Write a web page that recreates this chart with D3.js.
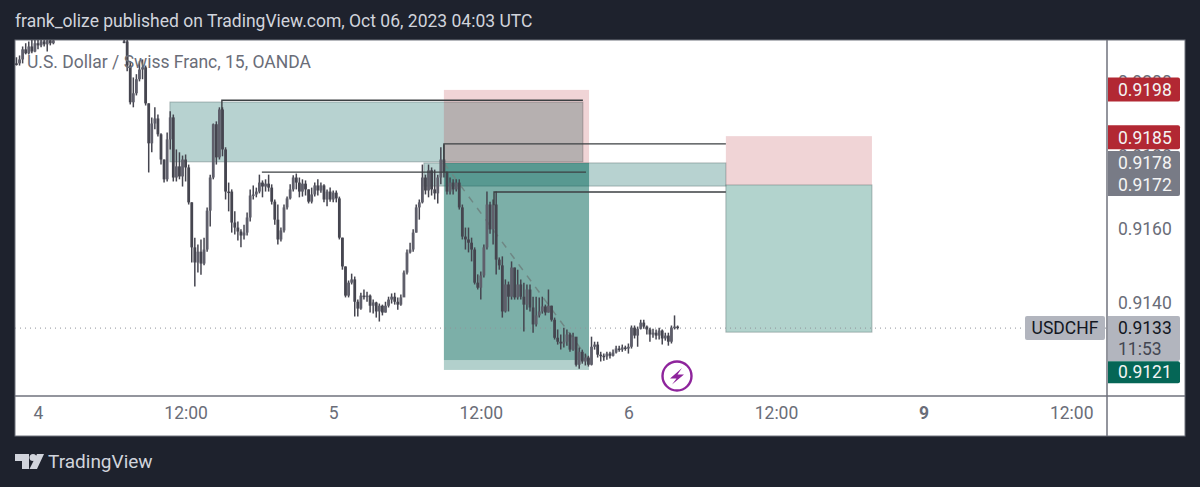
<!DOCTYPE html>
<html>
<head>
<meta charset="utf-8">
<style>
  html, body { margin: 0; padding: 0; background: #1e222d; overflow: hidden; }
  svg { display: block; font-family: Roboto, sans-serif; }
</style>
</head>
<body>
<div id="chart"></div>
<script src="https://cdn.jsdelivr.net/npm/d3@7"></script>
<script>
// Bars are numbered in 15 minute steps from Oct 4 00:00, the weekend is collapsed
var barSlots = d3.range(-7, 6).concat(d3.range(28, 209));

// Values, in points (1/100000 of a franc)
var closes = [
  92060,92071,92099,92088,92107,92093,92116,92110,92121,92113,92124,92116,92124,
  92121,92054,91952,91977,92016,92043,92049,91949,91838,91893,91907,91863,91793,91738,91849,91910,91743,91774,91746,91793,91771,91674,
  91549,91507,91537,91504,91543,91651,91743,91891,91799,91932,91821,91704,91704,91618,91604,91593,91582,91590,91632,91693,91696,91704,
  91729,91718,91726,91715,91676,91626,91571,91596,91660,91685,91710,91743,91729,91704,91726,91710,91676,91696,91721,91707,91721,91682,
  91704,91682,91701,91685,91576,91496,91415,91451,91460,91398,91379,91415,91412,91415,91387,91396,91371,91387,91368,91387,91404,91412,
  91398,91390,91410,91479,91535,91543,91590,91660,91674,91743,91707,91763,91710,91699,91743,91793,91757,91704,91729,91710,91729,91660,
  91579,91571,91562,91543,91451,91437,91471,91549,91668,91599,91668,91515,91499,91371,91446,91412,91493,91410,91446,91412,91390,91432,
  91382,91335,91360,91371,91385,91368,91387,91348,91298,91287,91282,91287,91307,91265,91301,91223,91259,91232,91243,91223,91273,91279,
  91251,91248,91246,91254,91248,91257,91268,91265,91271,91268,91273,91326,91304,91323,91340,91329,91321,91307,91312,91304,91318,91296,
  91304,91287,91326,91329,91326
];
var highs = [
  92077,92082,92107,92116,92121,92127,92127,92132,92132,92138,92138,92138,92138,
  92143,92132,92066,92021,92030,92066,92071,92054,91949,91910,91938,91918,91866,91793,91868,91927,91918,91821,91813,91804,91807,91779,
  91674,91576,91557,91571,91576,91660,91751,91893,91899,91938,91938,91827,91729,91710,91649,91621,91599,91612,91646,91710,91721,91715,
  91751,91735,91738,91751,91724,91682,91668,91604,91668,91690,91724,91749,91754,91743,91738,91735,91710,91715,91729,91738,91729,91724,
  91710,91715,91707,91707,91690,91576,91496,91457,91476,91468,91404,91423,91432,91426,91418,91404,91398,91393,91390,91398,91412,91421,
  91423,91410,91418,91485,91543,91562,91599,91668,91682,91779,91751,91779,91771,91765,91751,91827,91835,91760,91743,91738,91738,91738,
  91668,91604,91604,91576,91549,91474,91482,91557,91704,91676,91682,91704,91521,91524,91460,91454,91510,91493,91487,91460,91451,91446,
  91446,91412,91412,91410,91412,91390,91432,91387,91354,91321,91307,91326,91321,91312,91312,91293,91271,91265,91254,91248,91301,91287,
  91287,91259,91254,91259,91259,91265,91276,91276,91279,91276,91282,91332,91332,91329,91348,91348,91332,91326,91323,91321,91326,91321,
  91312,91312,91332,91360,91332
];
var lows = [
  92054,92054,92060,92085,92085,92088,92091,92099,92105,92107,92093,92110,92113,
  92116,92038,91946,91938,91971,92010,92016,91943,91757,91813,91877,91857,91779,91729,91732,91821,91732,91732,91738,91718,91732,91668,
  91507,91440,91479,91473,91499,91537,91607,91738,91779,91793,91802,91682,91649,91590,91585,91568,91549,91571,91582,91621,91682,91688,
  91699,91688,91704,91704,91668,91612,91557,91565,91590,91654,91682,91704,91710,91688,91690,91693,91671,91671,91690,91693,91701,91674,
  91663,91676,91674,91674,91571,91487,91410,91410,91446,91357,91357,91376,91404,91398,91368,91365,91354,91343,91360,91368,91382,91393,
  91390,91376,91387,91412,91474,91532,91537,91590,91626,91671,91696,91688,91693,91682,91671,91724,91743,91696,91696,91696,91704,91654,
  91571,91543,91535,91510,91446,91432,91404,91465,91543,91587,91557,91474,91487,91354,91368,91371,91404,91404,91404,91404,91315,91376,
  91371,91312,91329,91354,91365,91360,91368,91343,91293,91279,91265,91271,91276,91259,91262,91218,91212,91226,91221,91218,91221,91265,
  91243,91232,91234,91237,91240,91246,91254,91259,91259,91262,91254,91268,91296,91273,91321,91323,91307,91287,91298,91293,91293,91279,
  91290,91276,91282,91321,91321
];

// Price scale labels
var axisPrices = [0.92, 0.918, 0.916, 0.914];
var redLabels = [0.9198, 0.9185];
var greyLabels = [0.9178, 0.9172];
var lastPrice = 0.9133;
var lowLabel = 0.9121;

// Time scale labels
var timeSlots = [0, 48, 96, 144, 192, 240, 288, 336];
var timeLabels = ["4", "12:00", "5", "12:00", "6", "12:00", "9", "12:00"];

// Boxes drawn on the chart: from bar, to bar, top price, bottom price
var tealBoxes = [
  [42.9, 177.2, 0.91946, 0.91783],
  [125.5, 223.7, 0.9178, 0.91717]
];
var greenBoxes = [
  [132, 179.2, 0.9178, 0.91216],
  [132, 179.2, 0.9178, 0.91243]
];
var redBoxes = [
  [132, 179.2, 0.91979, 0.9178],
  [223.7, 271.2, 0.91853, 0.9172]
];
var targetBox = [223.7, 271.2, 0.9172, 0.91319];

// Level lines: from bar, to bar, price, and the price its left tick runs down to
var levels = [
  [59.8, 177.2, 0.91951, 0.91924],
  [132, 223.7, 0.91832, 0.91788],
  [72.8, 178.2, 0.91755, 0.91755],
  [148.3, 223.7, 0.91701, 0.91665]
];
var trendLine = [[132, 0.9178], [179.5, 0.9124]];

var width = 1200;
var height = 487;
var left = 15, right = 1185, axisX = 1107, top_ = 40, axisY = 396, bottom = 436;
var fontSize = 17.5;

var x = d3.scaleLinear().domain([-7.48, 347.64]).range([left, axisX]);
var y = d3.scaleLinear().domain([0.91145, 0.92115]).range([axisY, top_]);

// the points above were read with a slightly coarser price step
function toPrice(pts) {
  return 0.916 + (pts - 91600) * 0.981e-5;
}

var candles = barSlots.map(function(slot, i) {
  var contiguous = i > 0 && barSlots[i - 1] === slot - 1;
  return {
    slot: slot,
    open: toPrice(contiguous ? closes[i - 1] : closes[i]),
    close: toPrice(closes[i]),
    high: toPrice(highs[i]),
    low: toPrice(lows[i])
  };
});

var svg = d3.select("#chart").append("svg")
  .attr("width", width)
  .attr("height", height);

svg.append("rect")
  .attr("x", left).attr("y", top_)
  .attr("width", right - left).attr("height", bottom - top_)
  .attr("fill", "#fff")
  .attr("stroke", "#6f727c");

svg.append("defs").append("clipPath").attr("id", "plot")
  .append("rect")
  .attr("x", left).attr("y", top_)
  .attr("width", axisX - left).attr("height", axisY - top_);

var plot = svg.append("g").attr("clip-path", "url(#plot)");

function drawBoxes(boxes, fill, stroke) {
  plot.append("g").selectAll("rect")
    .data(boxes)
    .enter().append("rect")
    .attr("x", function(d) { return x(d[0]); })
    .attr("width", function(d) { return x(d[1]) - x(d[0]); })
    .attr("y", function(d) { return y(d[2]); })
    .attr("height", function(d) { return y(d[3]) - y(d[2]); })
    .attr("fill", fill)
    .attr("stroke", stroke)
    .attr("stroke-width", 1);
}

drawBoxes(tealBoxes, "rgba(0,96,88,0.282)", "rgba(90,110,110,0.45)");
drawBoxes(greenBoxes, "rgba(0,100,85,0.3)", "none");
drawBoxes(redBoxes, "rgba(178,40,51,0.2)", "none");
drawBoxes([targetBox], "rgba(0,110,90,0.3)", "rgba(90,110,110,0.45)");

plot.append("line")
  .attr("x1", x(trendLine[0][0])).attr("y1", y(trendLine[0][1]))
  .attr("x2", x(trendLine[1][0])).attr("y2", y(trendLine[1][1]))
  .attr("stroke", "#6f8784")
  .attr("stroke-width", 1.5)
  .attr("stroke-dasharray", "7 7");

// last price line
plot.append("line")
  .attr("x1", left).attr("x2", axisX)
  .attr("y1", y(lastPrice)).attr("y2", y(lastPrice))
  .attr("stroke", "#8f929b")
  .attr("stroke-dasharray", "1 4");

// Candles
var bars = plot.append("g").selectAll("g")
  .data(candles)
  .enter().append("g");

bars.append("line")
  .attr("x1", function(d) { return x(d.slot); })
  .attr("x2", function(d) { return x(d.slot); })
  .attr("y1", function(d) { return y(d.high); })
  .attr("y2", function(d) { return y(d.low); })
  .attr("stroke", "#45454f")
  .attr("stroke-width", 1.5);

bars.append("rect")
  .attr("x", function(d) { return x(d.slot) - 1.4; })
  .attr("width", 2.8)
  .attr("y", function(d) { return y(Math.max(d.open, d.close)); })
  .attr("height", function(d) { return Math.max(1.5, Math.abs(y(d.open) - y(d.close))); })
  .attr("fill", function(d) { return d.close > d.open ? "#5f5f6b" : "#45454f"; });

// Level lines with the little tick at their left end
plot.append("g").selectAll("path")
  .data(levels)
  .enter().append("path")
  .attr("d", function(d) {
    return "M" + x(d[0]) + "," + y(d[3]) + "V" + y(d[2]) + "H" + x(d[1]);
  })
  .attr("fill", "none")
  .attr("stroke", "#3c4043")
  .attr("stroke-width", 1.4);

// Axis frame
svg.append("line")
  .attr("x1", axisX).attr("x2", axisX).attr("y1", top_).attr("y2", bottom)
  .attr("stroke", "#6f727c").attr("stroke-width", 1.5);
svg.append("line")
  .attr("x1", left).attr("x2", right).attr("y1", axisY).attr("y2", axisY)
  .attr("stroke", "#6f727c").attr("stroke-width", 1.5);

// Time axis
var timeAxis = svg.append("g")
  .attr("transform", "translate(0," + axisY + ")")
  .call(d3.axisBottom(x)
    .tickValues(timeSlots)
    .tickSize(0)
    .tickPadding(11)
    .tickFormat(function(d, i) { return timeLabels[i]; }));
timeAxis.select(".domain").remove();
timeAxis.selectAll("text")
  .attr("font-family", "Roboto, sans-serif")
  .attr("font-size", fontSize)
  .attr("fill", "#6a6d78")
  .attr("font-weight", function(d, i) { return timeLabels[i] === "9" ? 700 : 400; });

// Price axis
var priceAxis = svg.append("g")
  .attr("transform", "translate(" + axisX + ",0)")
  .call(d3.axisRight(y)
    .tickValues(axisPrices)
    .tickSize(0)
    .tickPadding(11)
    .tickFormat(d3.format(".4f")));
priceAxis.select(".domain").remove();
priceAxis.selectAll("text")
  .attr("font-family", "Roboto, sans-serif")
  .attr("font-size", fontSize)
  .attr("fill", "#6a6d78");

var labelX = axisX + 1, labelW = 72, textX = 1118;

function priceTag(top, h, fill) {
  svg.append("path")
    .attr("d", "M" + labelX + "," + top + "h" + (labelW - 2) + "a2,2 0 0 1 2,2v" + (h - 4) + "a2,2 0 0 1 -2,2h" + (2 - labelW) + "z")
    .attr("fill", fill);
}

function priceText(text, yPos, fill) {
  svg.append("text")
    .attr("x", textX).attr("y", yPos)
    .attr("dy", "0.36em")
    .attr("font-size", fontSize)
    .attr("fill", fill)
    .text(text);
}

var fmt = d3.format(".4f");

redLabels.forEach(function(p) {
  priceTag(y(p) - 12, 24, "#b22833");
  priceText(fmt(p), y(p), "#f4f4f4");
});

priceTag(y(greyLabels[0]) - 12, y(greyLabels[1]) - y(greyLabels[0]) + 23, "#787b86");
greyLabels.forEach(function(p) {
  priceText(fmt(p), y(p), "#f4f4f4");
});

priceTag(y(lastPrice) - 12, 45, "#b2b5be");
priceText(fmt(lastPrice), y(lastPrice), "#131722");
priceText("11:53", y(lastPrice) + 21, "#434651");

priceTag(y(lowLabel) - 11, 22, "#056656");
priceText(fmt(lowLabel), y(lowLabel), "#f4f4f4");

svg.append("rect")
  .attr("x", 1025).attr("y", y(lastPrice) - 12)
  .attr("width", 80).attr("height", 24)
  .attr("rx", 2)
  .attr("fill", "#b2b5be");
svg.append("text")
  .attr("x", 1065).attr("y", y(lastPrice))
  .attr("dy", "0.36em")
  .attr("text-anchor", "middle")
  .attr("font-size", fontSize)
  .attr("fill", "#131722")
  .text("USDCHF");

// Titles
svg.append("text")
  .attr("x", 15).attr("y", 27)
  .attr("font-size", fontSize)
  .attr("fill", "#d1d4dc")
  .text("frank_olize published on TradingView.com, Oct 06, 2023 04:03 UTC");

svg.append("text")
  .attr("x", 27).attr("y", 68)
  .attr("font-size", fontSize)
  .attr("fill", "#6a6d78")
  .text("U.S. Dollar / Swiss Franc, 15, OANDA");

// Flash icon
var flash = svg.append("g").attr("transform", "translate(677,376)");
flash.append("circle")
  .attr("r", 14.5)
  .attr("fill", "none")
  .attr("stroke", "#8e249c")
  .attr("stroke-width", 2.4);
flash.append("path")
  .attr("d", "M5,-8L-7,2.5H-0.5L-5,8.5L7,-1.5H0.5Z")
  .attr("fill", "#8e249c");

// TradingView logo
var logo = svg.append("g").attr("fill", "#d1d4dc");
logo.append("path").attr("d", "M15,454H29V469H22V461H15Z");
logo.append("circle").attr("cx", 33).attr("cy", 457.5).attr("r", 3.5);
logo.append("path").attr("d", "M37,454H44L37,469H29.5Z");
svg.append("text")
  .attr("x", 48).attr("y", 468)
  .attr("font-size", 19)
  .attr("fill", "#d1d4dc")
  .text("TradingView");
</script>
</body>
</html>
